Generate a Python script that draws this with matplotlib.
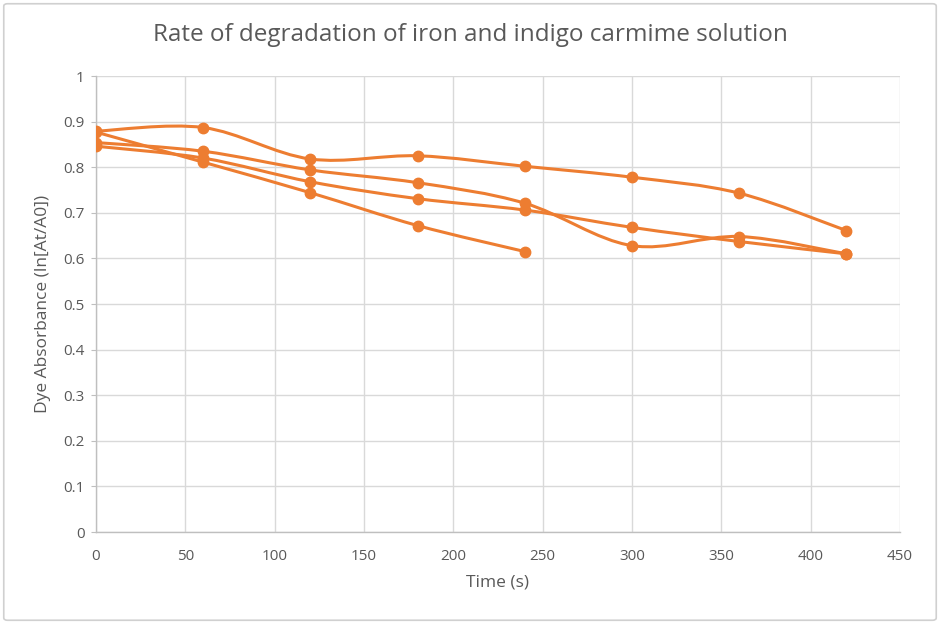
import numpy as np
import matplotlib.pyplot as plt
from matplotlib.path import Path
from matplotlib.patches import PathPatch, FancyBboxPatch

# tempos (s)
tempo = [0, 60, 120, 180, 240, 300, 360, 420]

# absorbancia de cada ensaio
serie_a = [0.879, 0.887, 0.818, 0.825, 0.802, 0.778, 0.743, 0.661]
serie_b = [0.854, 0.835, 0.794, 0.766, 0.721, 0.628, 0.648, 0.610]
serie_c = [0.846, 0.820, 0.768, 0.731, 0.706, 0.668, 0.637, 0.610]
serie_d = [0.877, 0.811, 0.744, 0.672, 0.615]

series = [serie_a, serie_b, serie_c, serie_d]

xticks = [0, 50, 100, 150, 200, 250, 300, 350, 400, 450]
yticks = [0, 0.1, 0.2, 0.3, 0.4, 0.5, 0.6, 0.7, 0.8, 0.9, 1]

laranja = '#ED7D31'
cinza_texto = '#595959'
cinza_grade = '#D9D9D9'


# Curva suavizada estilo Excel (Bezier pelos pontos)
def caminho_suave(x, y):
    p = np.column_stack([x, y]).astype(float)
    n = len(p)
    verts = [p[0]]
    codes = [Path.MOVETO]
    for i in range(n - 1):
        p0 = p[i - 1] if i > 0 else p[i]
        p1 = p[i]
        p2 = p[i + 1]
        p3 = p[i + 2] if i + 2 < n else p[i + 1]
        c1 = p1 + (p2 - p0) / 6.0
        c2 = p2 - (p3 - p1) / 6.0
        verts += [c1, c2, p2]
        codes += [Path.CURVE4] * 3
    return Path(verts, codes)


fig = plt.figure(figsize=(9.4, 6.24), dpi=100)
plt.rcParams['font.family'] = ['Open Sans', 'DejaVu Sans']

borda = FancyBboxPatch((0.004, 0.006), 0.992, 0.988, boxstyle='round,pad=0,rounding_size=0.004',
                       transform=fig.transFigure, facecolor='none', edgecolor='#D0D0D0',
                       linewidth=1.2, zorder=0)
fig.patches.append(borda)

ax = fig.add_axes([96 / 940, 92 / 624, 804 / 940, 456 / 624])
ax.set_facecolor('none')

for s in series:
    x = tempo[:len(s)]
    ax.add_patch(PathPatch(caminho_suave(x, s), facecolor='none', edgecolor=laranja,
                           linewidth=2.2, capstyle='round', joinstyle='round', zorder=3))
    ax.plot(x, s, linestyle='none', marker='o', markersize=7.5, color=laranja, zorder=4)

ax.set_xlim(0, 450)
ax.set_ylim(0, 1)
ax.set_xticks(xticks)
ax.set_yticks(yticks)
ax.set_xticklabels([str(v) for v in xticks])
ax.set_yticklabels(['0' if v == 0 else ('1' if v == 1 else f'{v:.1f}') for v in yticks])

ax.grid(True, color=cinza_grade, linewidth=1.0)
ax.set_axisbelow(True)
for lado in ['top', 'right']:
    ax.spines[lado].set_visible(False)
ax.spines['left'].set_color('#BFBFBF')
ax.spines['bottom'].set_color('#BFBFBF')
ax.spines['left'].set_linewidth(1.0)
ax.spines['bottom'].set_linewidth(1.0)

ax.tick_params(axis='y', direction='out', length=3.6, color='#BFBFBF', labelcolor=cinza_texto,
               labelsize=11, pad=4.5)
ax.tick_params(axis='x', length=0, labelcolor=cinza_texto, labelsize=11, pad=12.5)

ax.set_xlabel('Time (s)', color=cinza_texto, fontsize=12.5, labelpad=7)
ax.set_ylabel('Dye Absorbance (ln[At/A0])', color=cinza_texto, fontsize=12.5, labelpad=9)

fig.text(0.5, 1 - 35 / 624, 'Rate of degradation of iron and indigo carmime solution',
         ha='center', va='center', fontsize=17.5, color=cinza_texto)

fig.savefig('out.png', dpi=100)
